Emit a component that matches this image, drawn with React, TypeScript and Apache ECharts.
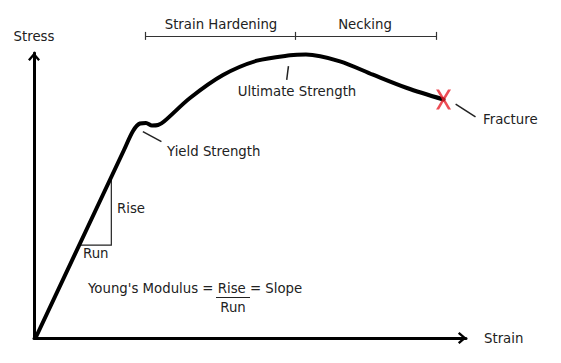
import React, { useEffect, useRef } from 'react';
import * as echarts from 'echarts';

// Stress–strain curve (arbitrary units, strain 0–100, stress 0–100)
const strain = [0.46, 20.83, 22.92, 24.54, 25.93, 27.31, 28.7, 30.09, 36.11, 43.75, 51.62, 59.26, 62.96, 70.83, 78.47, 86.34, 94.79];
const stress = [0.35, 65.96, 72.63, 75.26, 75.44, 74.56, 74.74, 75.96, 84.21, 92.28, 97.3, 99.19, 99.47, 97.09, 92.39, 87.72, 83.68];

const fracturePoint = [94.8, 83.7];

// rise / run triangle on the elastic line
const slopeTriangle = [[10.5, 32.6], [17.9, 32.6], [17.9, 56.1]];

// stage brackets above the curve
const stageBounds = [25.7, 60.4, 93.1];
const stageNames = ['Strain Hardening', 'Necking'];
const bracketLevel = 106;
const bracketTick = 1.4;

// leader lines from labels to curve features
const yieldLeader = [[25.2, 72.4], [29.5, 68.9]];
const ultimateLeader = [[58.9, 95.4], [58.5, 90.6]];
const fractureLeader = [[97.6, 82.1], [102.2, 77.6]];

const FONT = '"DejaVu Sans", Verdana, sans-serif';
const FS = 13.3;
const TEXT_COLOR = '#222';

export default function App() {
  const ref = useRef<HTMLDivElement>(null);

  useEffect(() => {
    const chart = echarts.init(ref.current!, null, { renderer: 'svg' });

    const txt = (text: string, x: number, y: number, align: string = 'left') => ({
      type: 'text',
      x,
      y,
      z: 10,
      style: {
        text,
        font: `${FS}px ${FONT}`,
        fill: TEXT_COLOR,
        textAlign: align,
        textVerticalAlign: 'middle',
        align,
        verticalAlign: 'middle',
      },
    });

    const curve = strain.map((s, i) => [s, stress[i]]);

    const bracketSegments: any[] = [];
    for (let i = 0; i < stageBounds.length - 1; i++) {
      bracketSegments.push({ coords: [[stageBounds[i], bracketLevel], [stageBounds[i + 1], bracketLevel]] });
    }
    stageBounds.forEach((b) => {
      bracketSegments.push({ coords: [[b, bracketLevel - bracketTick], [b, bracketLevel + bracketTick]] });
    });

    const chevron = 'path://M6,0 L12,7 L10.2,8.6 L6,3.5 L1.8,8.6 L0,7 Z';
    const axisCommon = {
      type: 'value',
      min: 0,
      max: 100,
      nameLocation: 'end',
      nameTextStyle: { fontFamily: FONT, fontSize: FS, color: TEXT_COLOR },
      axisLine: {
        show: true,
        onZero: false,
        symbol: ['none', chevron],
        symbolSize: [12, 8.6],
        symbolOffset: [0, -3.8],
        lineStyle: { color: '#000', width: 3 },
      },
      axisTick: { show: false },
      axisLabel: { show: false },
      splitLine: { show: false },
    };

    const option: any = {
      animation: false,
      grid: { left: 34, top: 53, width: 432, height: 285 },
      xAxis: { ...axisCommon, name: 'Strain', nameGap: 18 },
      yAxis: { ...axisCommon, name: 'Stress', nameGap: 10 },
      series: [
        {
          name: 'Stress-strain',
          type: 'line',
          data: curve,
          smooth: 0.3,
          symbol: 'none',
          clip: false,
          lineStyle: { color: '#000', width: 4, cap: 'round', join: 'round' },
          z: 5,
        },
        {
          name: 'Slope',
          type: 'lines',
          coordinateSystem: 'cartesian2d',
          polyline: true,
          clip: false,
          data: [{ coords: slopeTriangle }],
          lineStyle: { color: '#222', width: 1.2, opacity: 1, curveness: 0 },
        },
        {
          name: 'Stages',
          type: 'lines',
          coordinateSystem: 'cartesian2d',
          clip: false,
          data: bracketSegments,
          lineStyle: { color: '#333', width: 1.2, opacity: 1, curveness: 0 },
        },
        {
          name: 'Leaders',
          type: 'lines',
          coordinateSystem: 'cartesian2d',
          clip: false,
          data: [{ coords: yieldLeader }, { coords: ultimateLeader }, { coords: fractureLeader }],
          lineStyle: { color: '#222', width: 1.5, opacity: 1, curveness: 0 },
        },
        {
          name: 'Fracture',
          type: 'scatter',
          data: [fracturePoint],
          symbol: 'path://M0,0 L2,0 L5,3.8 L8,0 L10,0 L6,5 L10,10 L8,10 L5,6.2 L2,10 L0,10 L4,5 Z',
          symbolSize: [15, 20],
          itemStyle: { color: '#e8202a' },
          clip: false,
          z: 6,
        },
      ],
      graphic: [
        txt(stageNames[0], 221, 24, 'center'),
        txt(stageNames[1], 365, 24, 'center'),
        txt('Ultimate Strength', 297, 91, 'center'),
        txt('Yield Strength', 167, 151),
        txt('Fracture', 483, 119),
        txt('Rise', 117, 208),
        txt('Run', 83, 253),
        txt("Young's Modulus = Rise = Slope", 88, 288),
        {
          type: 'line',
          z: 10,
          shape: { x1: 216, y1: 297.5, x2: 250, y2: 297.5 },
          style: { stroke: '#222', lineWidth: 1.2 },
        },
        txt('Run', 233, 307, 'center'),
      ],
    };

    chart.setOption(option);
    return () => chart.dispose();
  }, []);

  return (
    <div
      ref={ref}
      style={{ position: 'fixed', left: 0, top: 0, width: 561, height: 363, background: '#fff' }}
    />
  );
}
